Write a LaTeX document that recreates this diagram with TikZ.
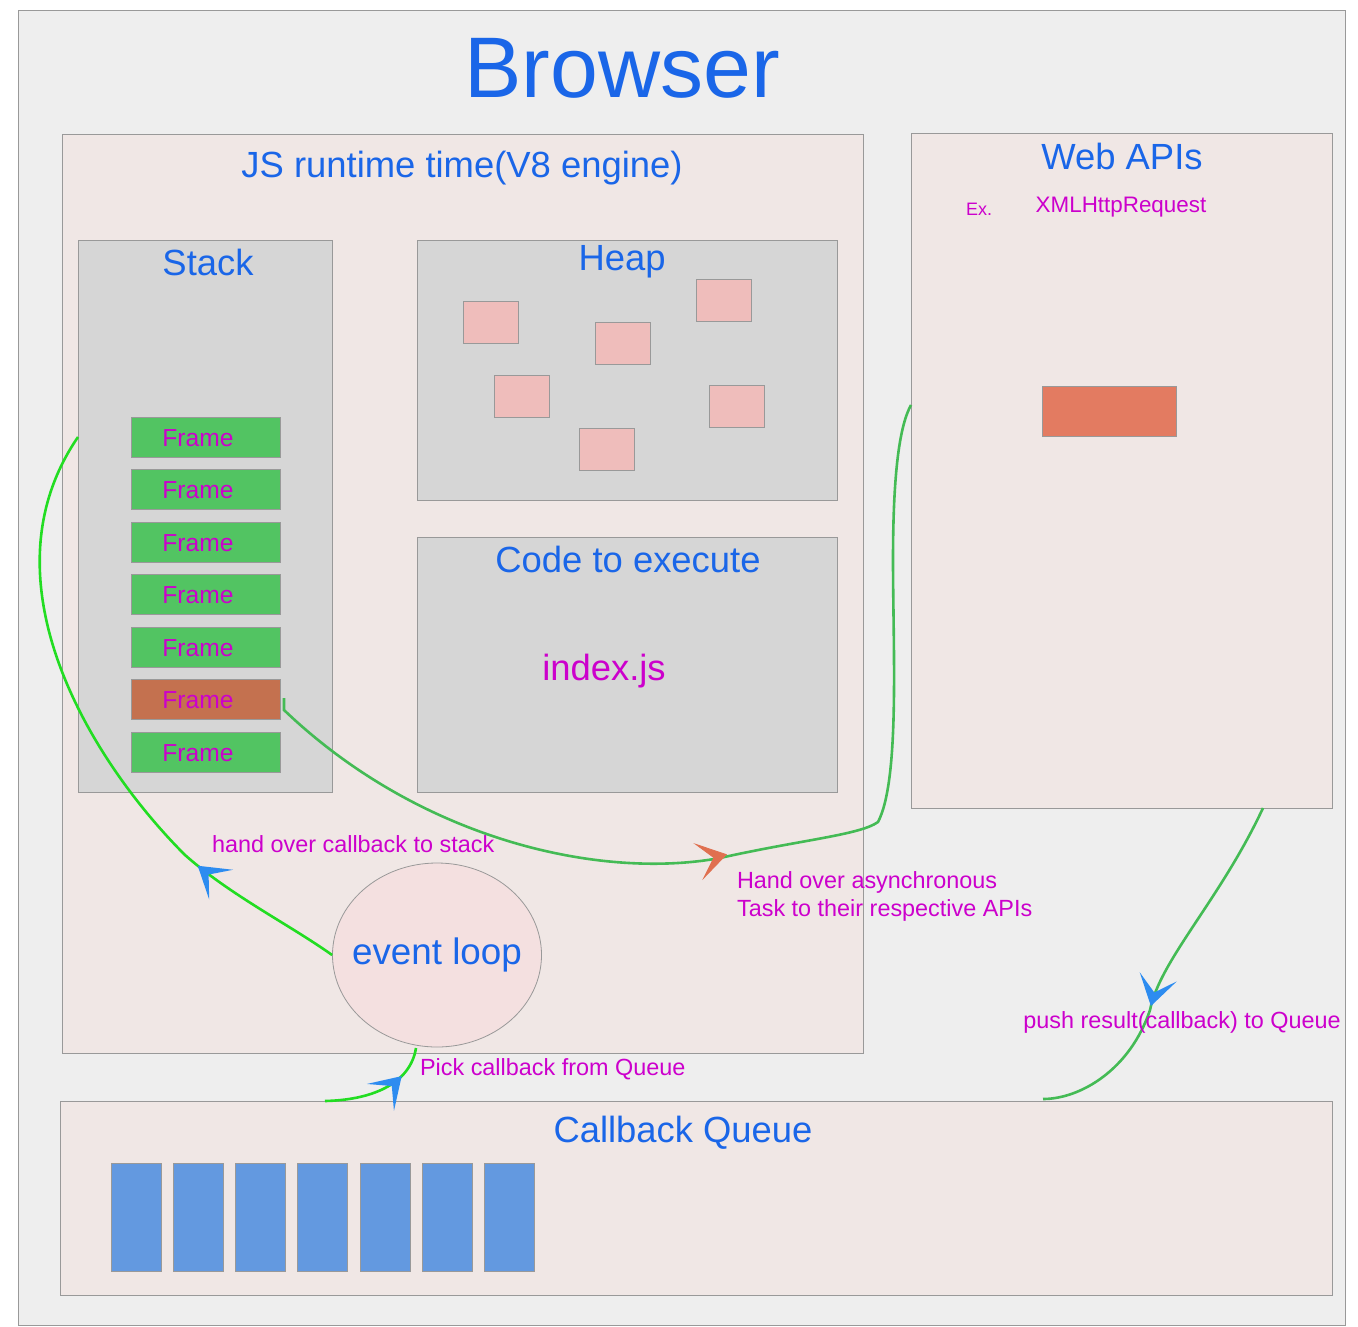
\documentclass[tikz,border=0pt]{standalone}
\usepackage{fontspec}
\setmainfont{Liberation Sans}
\usetikzlibrary{arrows.meta,decorations.markings,shapes.geometric}
\definecolor{ttl}{HTML}{1A66E8}
\definecolor{mag}{HTML}{CC00CC}
\definecolor{bgc}{HTML}{EEEEEE}
\definecolor{pane}{HTML}{F0E7E5}
\definecolor{inner}{HTML}{D6D6D6}
\definecolor{frm}{HTML}{52C462}
\definecolor{frmo}{HTML}{C4714F}
\definecolor{heapc}{HTML}{EFBDBB}
\definecolor{qc}{HTML}{6399E0}
\definecolor{orr}{HTML}{E37B61}
\definecolor{gl}{HTML}{44BB55}
\definecolor{gb}{HTML}{22DD22}
\definecolor{arb}{HTML}{2D8CF0}
\definecolor{aro}{HTML}{E07050}
\definecolor{elc}{HTML}{F4E0E0}
\tikzset{
 box/.style={draw=gray!80, line width=0.5pt, anchor=north west, inner sep=0pt},
 ttlt/.style={text=ttl, font=\fontsize{18.2}{22}\selectfont},
 lab/.style={text=mag, font=\fontsize{11.7}{14}\selectfont},
 frame/.style={box, fill=frm, minimum width=74.5pt, minimum height=20pt},
 hp/.style={box, fill=heapc, minimum width=27.5pt, minimum height=21pt},
 qb/.style={box, fill=qc, minimum width=25pt, minimum height=54pt},
 conn/.style={line width=1.3pt},
 mk/.style args={#1 at #2}{postaction={decorate}, decoration={markings, mark=at position #2 with {\arrow[#1]{Stealth[length=15pt,width=19pt,inset=8pt]}}}},
}
\begin{document}
\begin{tikzpicture}[x=0.5pt,y=-0.5pt]
\useasboundingbox (0,0) rectangle (1358,1326);
\fill[white] (0,0) rectangle (1358,1326);
\node[box, fill=bgc, minimum width=663.5pt, minimum height=657.5pt] (browser) at (18,10) {};
\node[text=ttl, font=\fontsize{43}{50}\selectfont] (btitle) at (622,68) {Browser};
\node[box, fill=pane, minimum width=400.5pt, minimum height=459.5pt] (js) at (62,134) {};
\node[ttlt] (jst) at (462,168) {JS runtime time(V8 engine)};
\node[box, fill=pane, minimum width=210.5pt, minimum height=337.5pt] (web) at (911,133) {};
\node[ttlt] (webt) at (1122,156) {Web APIs};
\node[text=mag, font=\fontsize{9}{11}\selectfont] (ex) at (979,209) {Ex.};
\node[text=mag, font=\fontsize{11.2}{13}\selectfont] (xhr) at (1121,207) {XMLHttpRequest};
\node[box, fill=orr, minimum width=67pt, minimum height=25pt] (req) at (1042,386) {};
\node[box, fill=inner, minimum width=127pt, minimum height=276pt] (stack) at (78,240) {};
\node[ttlt] (stackt) at (208,262) {Stack};
\foreach \y/\c [count=\i] in {417/frm,469/frm,522/frm,574/frm,627/frm,679/frmo,732/frm}{
 \node[frame, fill=\c] (f\i) at (131,\y) {};
 \node[lab, font=\fontsize{12.3}{14}\selectfont] (ft\i) at (198,\y+21) {Frame};
}
\node[box, fill=inner, minimum width=210pt, minimum height=130pt] (heap) at (417,240) {};
\node[ttlt] (heapt) at (622,262) {Heap};
\node[hp] (h1) at (463,301) {};
\node[hp] (h2) at (595,322) {};
\node[hp] (h3) at (696,279) {};
\node[hp] (h4) at (494,375) {};
\node[hp] (h5) at (709,385) {};
\node[hp] (h6) at (579,428) {};
\node[box, fill=inner, minimum width=210pt, minimum height=127.5pt] (code) at (417,537) {};
\node[ttlt] (codet) at (628,559) {Code to execute};
\node[text=mag, font=\fontsize{18.2}{22}\selectfont] (idx) at (604,671) {index.js};
\node[draw=gray!80, fill=elc, ellipse, minimum width=104.5pt, minimum height=92pt, inner sep=0pt] (loop) at (437,955) {};
\node[text=ttl, font=\fontsize{18.4}{22}\selectfont] (loopt) at (loop.center) {event loop};
\node[box, fill=pane, minimum width=636pt, minimum height=97pt] (queue) at (60,1101) {};
\node[ttlt] (queuet) at (683,1133) {Callback Queue};
\foreach \x [count=\i] in {111,173,235,297,360,422,484}{
 \node[qb] (q\i) at (\x,1163) {};
}
\coordinate (s1) at (78,437);
\coordinate (f6r) at (284,698);
\coordinate (w1) at (911,405);
\coordinate (w2) at (1263,808);
\coordinate (qa) at (1043,1099);
\coordinate (qbb) at (325,1101);
\coordinate (lb) at (416,1048);
\draw[conn, gb, mk={arb} at 0.25] (loop.west) .. controls (290,925) and (230,895) .. (185,855) .. controls (90,760) and (-20,580) .. (s1);
\node[lab, anchor=west] (l1) at (205,844) {hand over callback to stack};
\draw[conn, gl] (f6r) -- (284,710) .. controls (420,840) and (600,880) .. (720,858) .. controls (800,840) and (860,835) .. (878,822) .. controls (900,780) and (893,650) .. (893,560) .. controls (893,470) and (900,425) .. (w1);
\draw[draw=none, mk={aro} at 0.6] (700,861) -- (745,850);
\node[lab, anchor=north west, align=left] (l2) at (730,864) {Hand over asynchronous\\Task to their respective APIs};
\draw[conn, gl, mk={arb} at 0.6] (w2) .. controls (1220,900) and (1160,960) .. (1150,1010) .. controls (1130,1070) and (1080,1099) .. (qa);
\node[lab, anchor=center] (l3) at (1182,1022) {push result(callback) to Queue};
\draw[conn, gb, mk={arb} at 0.72] (qbb) .. controls (370,1100) and (410,1085) .. (lb);
\node[lab, anchor=west] (l4) at (413,1069) {Pick callback from Queue};
\end{tikzpicture}
\end{document}
